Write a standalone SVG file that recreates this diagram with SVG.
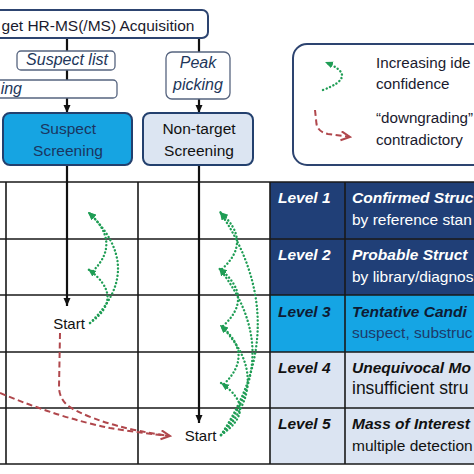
<svg xmlns="http://www.w3.org/2000/svg" width="474" height="474" viewBox="0 0 474 474">
<style>
text{font-family:"Liberation Sans",Arial,sans-serif;}
.box{fill:#fff;stroke:#2d4470;stroke-width:2;}
.sbox{fill:#fff;stroke:#56647f;stroke-width:1.3;}
.lbl{font-size:16px;font-style:italic;fill:#22365a;}
.big{font-size:15.5px;}
.leg{font-size:15.2px;fill:#1a1a2e;}
.grid{stroke:#1a1a1a;stroke-width:1.6;fill:none;}
.flow{stroke:#111;stroke-width:2.2;fill:none;}
.grn{stroke:#1f9d55;stroke-width:2.4;fill:none;stroke-dasharray:0.1 3.6;stroke-linecap:round;}
.red{stroke:#b0474c;stroke-width:2;fill:none;stroke-dasharray:6 3.5;}
.lv{font-size:15.5px;font-weight:bold;font-style:italic;}
.ds{font-size:15.5px;}
.w{fill:#fff;}
.k{fill:#111;}
.start{font-size:15px;fill:#111;}
</style>
<defs>
<marker id="ah" markerUnits="userSpaceOnUse" markerWidth="10" markerHeight="8" refX="8" refY="3.5" orient="auto"><path d="M0,0 L8,3.5 L0,7 z" fill="#111"/></marker>
<marker id="ag" markerUnits="userSpaceOnUse" markerWidth="10" markerHeight="8" refX="8" refY="3.5" orient="auto"><path d="M0,0 L8,3.5 L0,7 z" fill="#1f9d55"/></marker>
<marker id="ar" markerUnits="userSpaceOnUse" markerWidth="12" markerHeight="12" refX="10" refY="5" orient="auto"><path d="M1,0.5 L10,5 L1,9.5" fill="none" stroke="#b0474c" stroke-width="2"/></marker>
</defs>
<rect width="474" height="474" fill="#fff"/>

<g id="level-table">
<g id="level1"><rect x="270" y="182" width="204" height="57" fill="#203f77"/>
<text class="lv w" x="278" y="203">Level 1</text><text class="lv w" x="352" y="203">Confirmed Struc</text><text class="ds w" x="352" y="225">by reference stan</text></g>
<g id="level2"><rect x="270" y="239" width="204" height="56" fill="#203f77"/>
<text class="lv w" x="278" y="260">Level 2</text><text class="lv w" x="352" y="260">Probable Struct</text><text class="ds w" x="352" y="282">by library/diagnos</text></g>
<g id="level3"><rect x="270" y="295" width="204" height="57" fill="#15a5e4"/>
<text class="lv" x="278" y="317" fill="#0e1b33">Level 3</text><text class="lv" x="352" y="317" fill="#0e1b33">Tentative Candi</text><text class="ds" x="352" y="338" fill="#1d3a6a">suspect, substruc</text></g>
<g id="level4"><rect x="270" y="352" width="204" height="56" fill="#dbe4f2"/>
<text class="lv k" x="278" y="373">Level 4</text><text class="lv k" x="352" y="373">Unequivocal Mo</text><text class="k" x="352" y="394" font-size="17.5">insufficient stru</text></g>
<g id="level5"><rect x="270" y="408" width="204" height="56" fill="#dbe4f2"/>
<text class="lv k" x="278" y="429">Level 5</text><text class="lv k" x="352" y="429">Mass of Interest</text><text class="ds k" x="352" y="451">multiple detection</text></g>
<g id="grid">
<path class="grid" d="M0 182H474M0 239H474M0 295H474M0 352H474M0 408H474M0 464H474"/>
<path class="grid" d="M6 182V464M138 182V464M270 182V464M345 182V464"/>
</g>
</g>

<g id="connectors">
<path class="flow" d="M67 38V51M67 70V80"/>
<path class="flow" d="M67 98V113" marker-end="url(#ah)"/>
<path class="flow" d="M199 38V52"/>
<path class="flow" d="M199 99V113" marker-end="url(#ah)"/>
<path class="flow" d="M67 165V306" marker-end="url(#ah)"/>
<path class="flow" d="M199 165V423" marker-end="url(#ah)"/>
<g id="suspect-arcs">
<path class="grn" d="M90 323 Q126 297 88 269" marker-end="url(#ag)"/>
<path class="grn" d="M93 271 Q122 242 88 212" marker-end="url(#ag)"/>
<path class="grn" d="M90 323 Q147 268 88 212" marker-end="url(#ag)"/>
</g>
<g id="nontarget-arcs">
<path class="grn" d="M221 435 Q259 409 221 383" marker-end="url(#ag)"/>
<path class="grn" d="M224 384 Q255 354 220 325" marker-end="url(#ag)"/>
<path class="grn" d="M223 326 Q255 297 219 268" marker-end="url(#ag)"/>
<path class="grn" d="M222 269 Q253 241 220 212" marker-end="url(#ag)"/>
<path class="grn" d="M221 435 Q275 380 220 325" marker-end="url(#ag)"/>
<path class="grn" d="M221 435 Q285 352 219 268" marker-end="url(#ag)"/>
<path class="grn" d="M221 435 Q295 323 220 212" marker-end="url(#ag)"/>
</g>
<g id="downgrade-arrows">
<path class="red" d="M60 333 L59 388 Q60 403 75 410 Q110 428 170 436" marker-end="url(#ar)"/>
<path class="red" d="M0 393 Q60 418 110 428 Q140 433 170 436"/>
</g>
</g>

<g id="top-box">
<rect class="box" x="-10" y="10" width="218" height="28" rx="6"/>
<text x="194.5" y="30.5" text-anchor="end" class="big" fill="#1a1a2e">get HR-MS(/MS) Acquisition</text>
</g>
<g id="suspect-list">
<rect class="sbox" x="17" y="51" width="98" height="19" rx="4"/>
<text class="lbl" x="67" y="65" text-anchor="middle">Suspect list</text>
</g>
<g id="ing-box">
<rect class="sbox" x="-10" y="80" width="127" height="18" rx="4"/>
<text class="lbl" x="22" y="94" text-anchor="end">ing</text>
</g>
<g id="peak-picking">
<rect class="sbox" x="166" y="52" width="64" height="47" rx="6"/>
<text class="lbl" x="198" y="68" text-anchor="middle">Peak</text>
<text class="lbl" x="198" y="90" text-anchor="middle">picking</text>
</g>
<g id="suspect-screening">
<rect x="3" y="113" width="129" height="52" rx="7" fill="#16a4e2" stroke="#23406e" stroke-width="2"/>
<text class="big" x="68" y="134" text-anchor="middle" fill="#1b3560">Suspect</text>
<text class="big" x="68" y="156" text-anchor="middle" fill="#1b3560">Screening</text>
</g>
<g id="nontarget-screening">
<rect x="143" y="113" width="110" height="52" rx="7" fill="#dce5f2" stroke="#23406e" stroke-width="2"/>
<text class="big" x="199" y="134" text-anchor="middle" fill="#111">Non-target</text>
<text class="big" x="199" y="156" text-anchor="middle" fill="#111">Screening</text>
</g>
<g id="start-suspect"><text class="start" x="69" y="329" text-anchor="middle">Start</text></g>
<g id="start-nontarget"><text class="start" x="200.5" y="441" text-anchor="middle">Start</text></g>

<g id="legend">
<rect class="box" x="293" y="44" width="200" height="121" rx="14"/>
<path class="grn" d="M323 90 Q360 76 325 62" marker-end="url(#ag)"/>
<path class="red" d="M315 110 L316.5 124 Q318 132 328 134 L350 137" marker-end="url(#ar)"/>
<text class="leg" x="376" y="68">Increasing ide</text>
<text class="leg" x="376" y="89">confidence</text>
<text class="leg" x="376" y="123">“downgrading”</text>
<text class="leg" x="376" y="145">contradictory</text>
</g>
</svg>
